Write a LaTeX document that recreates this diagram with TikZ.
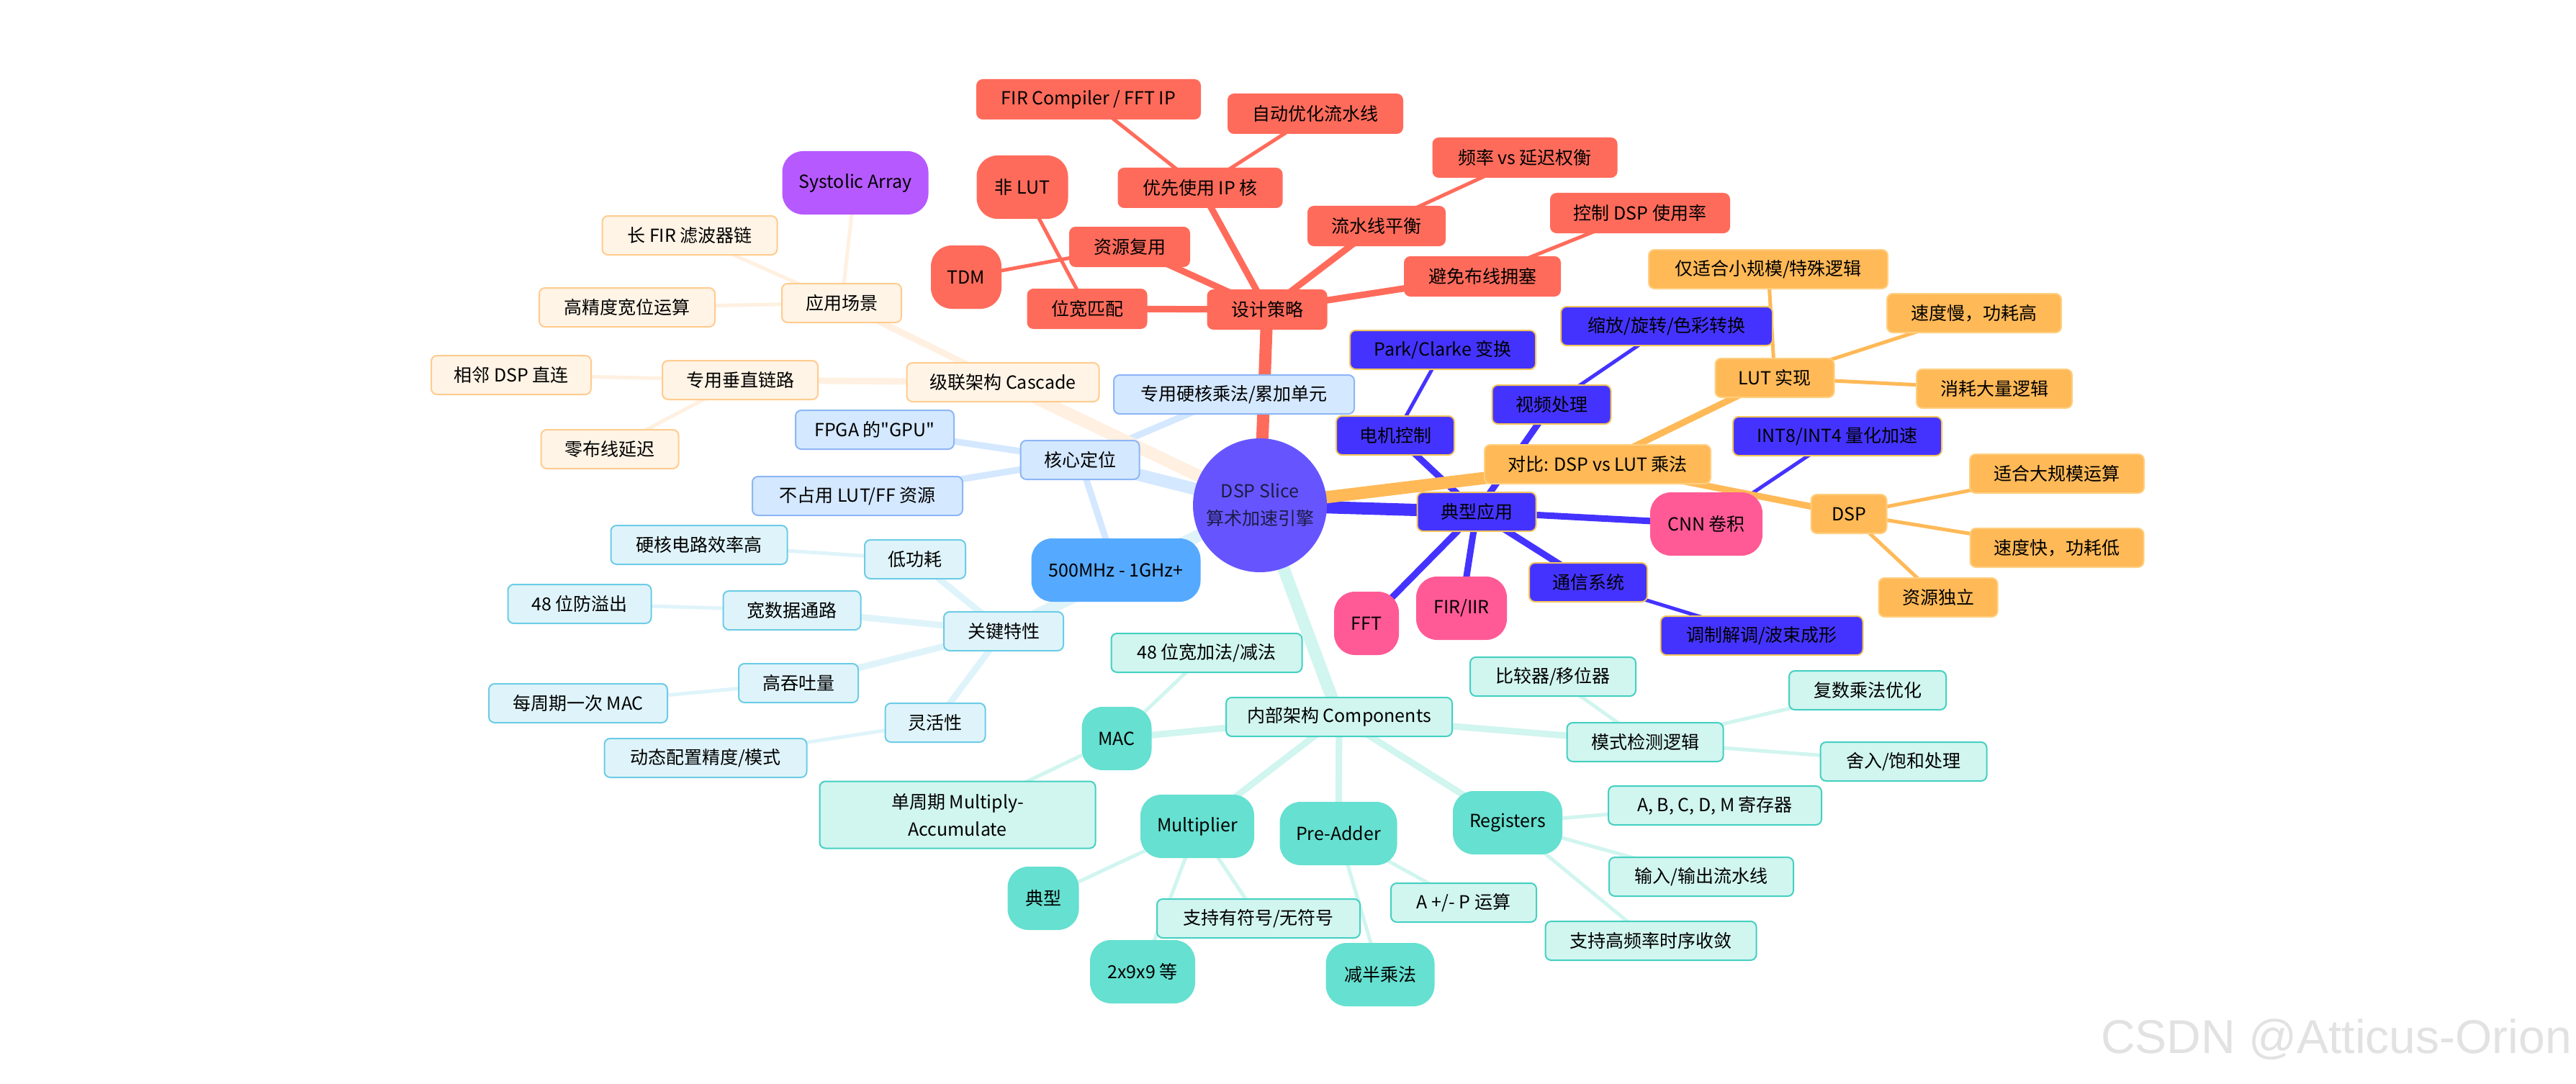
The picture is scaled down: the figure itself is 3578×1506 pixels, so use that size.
\documentclass[tikz,border=0pt]{standalone}
\usepackage{fontspec}
\newfontfamily\nfont{Noto Sans CJK SC}
\newfontfamily\wmfont{Liberation Sans}
\usetikzlibrary{backgrounds}
\definecolor{cRoot}{HTML}{6655FF}
\definecolor{cRootT}{HTML}{1C1C44}
\definecolor{cRed}{HTML}{FF6B5B}
\definecolor{cPeachF}{HTML}{FFF4E6}
\definecolor{cPeachD}{HTML}{FFCC8F}
\definecolor{cPeachE}{HTML}{FFF0E1}
\definecolor{cPurple}{HTML}{B65AFF}
\definecolor{cBlueF}{HTML}{D4E8FF}
\definecolor{cBlueD}{HTML}{8DB6F5}
\definecolor{cMHz}{HTML}{55AAFF}
\definecolor{cCyanF}{HTML}{DFF4FA}
\definecolor{cCyanD}{HTML}{6DCCE6}
\definecolor{cTealF}{HTML}{D1F5EF}
\definecolor{cTealD}{HTML}{45D0C2}
\definecolor{cTealR}{HTML}{66E0D0}
\definecolor{cInd}{HTML}{4433FF}
\definecolor{cIndD}{HTML}{F2C45C}
\definecolor{cPink}{HTML}{FF5A96}
\definecolor{cOra}{HTML}{FFB957}
\definecolor{cOraD}{HTML}{FFCF80}
\definecolor{cWm}{HTML}{E2E2E2}
\begin{document}
\begin{tikzpicture}[x=1pt,y=-1pt,
  base/.style={rectangle, rounded corners=8pt, line width=2pt, inner sep=0pt,
    minimum height=54pt, align=center, text=black,
    font=\nfont\fontsize{25}{38}\selectfont},
  big/.style={rounded corners=28pt, minimum height=86pt},
  redn/.style={base, fill=cRed, draw=cRed},
  redr/.style={redn, big},
  peach/.style={base, fill=cPeachF, draw=cPeachD},
  purp/.style={base, big, fill=cPurple, draw=cPurple},
  bluen/.style={base, fill=cBlueF, draw=cBlueD},
  mhz/.style={base, big, fill=cMHz, draw=cMHz},
  cyan/.style={base, fill=cCyanF, draw=cCyanD},
  teal/.style={base, fill=cTealF, draw=cTealD},
  tealr/.style={base, big, fill=cTealR, draw=cTealR},
  ind/.style={base, fill=cInd, draw=cIndD},
  pink/.style={base, big, fill=cPink, draw=cPink},
  ora/.style={base, fill=cOra, draw=cOraD},
  eA/.style={line width=17pt},
  eB/.style={line width=9pt},
  eC/.style={line width=5pt},
]
\useasboundingbox (0,0) rectangle (3578,1506);

% root
\node[circle, fill=cRoot, minimum size=186pt, inner sep=0pt, align=center,
  text=cRootT, font=\nfont\fontsize{25}{38}\selectfont] (root) at (1750,702) {DSP Slice\\算术加速引擎};

% design strategy (red)
\node[redn, minimum width=165pt] (sj) at (1760,430) {设计策略};
\node[redn, minimum width=227pt] (ipcore) at (1667,261) {优先使用 IP 核};
\node[redn, minimum width=310pt] (fir) at (1512,138) {FIR Compiler / FFT IP};
\node[redn, minimum width=242pt] (auto) at (1827,158) {自动优化流水线};
\node[redn, minimum width=190pt] (pipe) at (1912,314) {流水线平衡};
\node[redn, minimum width=255pt] (freq) at (2118,219) {频率 vs 延迟权衡};
\node[redn, minimum width=216pt] (avoid) at (2059,384) {避免布线拥塞};
\node[redn, minimum width=248pt] (ctrl) at (2278,296) {控制 DSP 使用率};
\node[redn, minimum width=166pt] (reuse) at (1569,343) {资源复用};
\node[redn, minimum width=165pt] (bw) at (1510,429) {位宽匹配};
\node[redr, minimum width=125pt] (nonlut) at (1420,260) {非 LUT};
\node[redr, minimum width=96pt] (tdm) at (1342,385) {TDM};

% cascade (peach)
\node[peach, minimum width=267pt] (cas) at (1393,531) {级联架构 Cascade};
\node[peach, minimum width=166pt] (scene) at (1169,421) {应用场景};
\node[peach, minimum width=243pt] (longfir) at (958,327) {长 FIR 滤波器链};
\node[peach, minimum width=244pt] (hiprec) at (871,427) {高精度宽位运算};
\node[peach, minimum width=216pt] (vert) at (1028,528) {专用垂直链路};
\node[peach, minimum width=222pt] (adj) at (710,521) {相邻 DSP 直连};
\node[peach, minimum width=191pt] (zero) at (847,624) {零布线延迟};
\node[purp, minimum width=201pt] (sys) at (1188,254) {Systolic Array};

% core position (light blue)
\node[bluen, minimum width=165pt] (core) at (1500,639) {核心定位};
\node[bluen, minimum width=334pt] (hard) at (1714,548) {专用硬核乘法/累加单元};
\node[bluen, minimum width=220pt] (gpu) at (1215,597) {FPGA 的"GPU"};
\node[bluen, minimum width=292pt] (nolut) at (1191,689) {不占用 LUT/FF 资源};
\node[mhz, minimum width=233pt] (mhzn) at (1550,792) {500MHz - 1GHz+};

% key features (cyan)
\node[cyan, minimum width=166pt] (key) at (1394,877) {关键特性};
\node[cyan, minimum width=140pt] (lowp) at (1271,777) {低功耗};
\node[cyan, minimum width=245pt] (eff) at (971,757) {硬核电路效率高};
\node[cyan, minimum width=191pt] (wide) at (1100,848) {宽数据通路};
\node[cyan, minimum width=199pt] (ovf) at (805,839) {48 位防溢出};
\node[cyan, minimum width=166pt] (thr) at (1109,949) {高吞吐量};
\node[cyan, minimum width=248pt] (permac) at (803,977) {每周期一次 MAC};
\node[cyan, minimum width=139pt] (flex) at (1299,1004) {灵活性};
\node[cyan, minimum width=281pt] (dyn) at (980,1053) {动态配置精度/模式};

% internal architecture (teal)
\node[teal, minimum width=314pt] (comp) at (1860,996) {内部架构 Components};
\node[tealr, minimum width=95pt] (mac) at (1551,1026) {MAC};
\node[teal, minimum width=265pt] (add48) at (1676,907) {48 位宽加法/减法};
\node[teal, minimum width=383pt, minimum height=93pt] (single) at (1330,1132) {单周期 Multiply-\\Accumulate};
\node[tealr, minimum width=156pt] (mult) at (1663,1148) {Multiplier};
\node[tealr, minimum width=97pt] (typ) at (1449,1248) {典型};
\node[teal, minimum width=282pt] (sign) at (1748,1276) {支持有符号/无符号};
\node[tealr, minimum width=144pt] (xnn) at (1587,1350) {2x9x9 等};
\node[tealr, minimum width=161pt] (pre) at (1859,1158) {Pre-Adder};
\node[teal, minimum width=202pt] (apm) at (2033,1254) {A +/- P 运算};
\node[tealr, minimum width=149pt] (half) at (1917,1354) {减半乘法};
\node[tealr, minimum width=150pt] (reg) at (2094,1143) {Registers};
\node[teal, minimum width=296pt] (abcd) at (2382,1119) {A, B, C, D, M 寄存器};
\node[teal, minimum width=256pt] (io) at (2363,1218) {输入/输出流水线};
\node[teal, minimum width=293pt] (hf) at (2293,1307) {支持高频率时序收敛};
\node[teal, minimum width=217pt] (pat) at (2285,1031) {模式检测逻辑};
\node[teal, minimum width=230pt] (cmpsh) at (2157,940) {比较器/移位器};
\node[teal, minimum width=218pt] (cplx) at (2594,959) {复数乘法优化};
\node[teal, minimum width=231pt] (rnd) at (2644,1058) {舍入/饱和处理};

% applications (indigo)
\node[ind, minimum width=165pt] (app) at (2051,711) {典型应用};
\node[ind, minimum width=164pt] (motor) at (1938,605) {电机控制};
\node[ind, minimum width=258pt] (park) at (2004,486) {Park/Clarke 变换};
\node[ind, minimum width=165pt] (video) at (2155,562) {视频处理};
\node[ind, minimum width=294pt] (scl) at (2315,453) {缩放/旋转/色彩转换};
\node[ind, minimum width=164pt] (comm) at (2206,809) {通信系统};
\node[ind, minimum width=281pt] (modem) at (2447,883) {调制解调/波束成形};
\node[ind, minimum width=290pt] (int8) at (2552,606) {INT8/INT4 量化加速};
\node[pink, minimum width=88pt] (fft) at (1898,866) {FFT};
\node[pink, minimum width=124pt] (firiir) at (2030,845) {FIR/IIR};
\node[pink, minimum width=154pt] (cnn) at (2370,728) {CNN 卷积};

% comparison (orange)
\node[ora, minimum width=314pt] (cmpr) at (2219,645) {对比: DSP vs LUT 乘法};
\node[ora, minimum width=165pt] (lut) at (2465,525) {LUT 实现};
\node[ora, minimum width=332pt] (small) at (2456,374) {仅适合小规模/特殊逻辑};
\node[ora, minimum width=242pt] (slow) at (2742,435) {速度慢，功耗高};
\node[ora, minimum width=216pt] (cons) at (2770,540) {消耗大量逻辑};
\node[ora, minimum width=105pt] (dsp) at (2568,714) {DSP};
\node[ora, minimum width=242pt] (large) at (2857,658) {适合大规模运算};
\node[ora, minimum width=241pt] (fast) at (2857,761) {速度快，功耗低};
\node[ora, minimum width=165pt] (indep) at (2692,830) {资源独立};

% watermark
\node[anchor=south east, inner sep=0pt, text=cWm, font=\wmfont\fontsize{66}{66}\selectfont] (wm) at (3572,1473) {CSDN @Atticus-Orion};

\begin{scope}[on background layer]
\fill[white] (0,0) rectangle (3578,1506);
% level 3
\draw[eC, cRed] (ipcore.center) -- (fir.center);
\draw[eC, cRed] (ipcore.center) -- (auto.center);
\draw[eC, cRed] (pipe.center) -- (freq.center);
\draw[eC, cRed] (avoid.center) -- (ctrl.center);
\draw[eC, cRed] (reuse.center) -- (tdm.center);
\draw[eC, cRed] (bw.center) -- (nonlut.center);
\draw[eC, cPeachE] (scene.center) -- (sys.center);
\draw[eC, cPeachE] (scene.center) -- (longfir.center);
\draw[eC, cPeachE] (scene.center) -- (hiprec.center);
\draw[eC, cPeachE] (vert.center) -- (adj.center);
\draw[eC, cPeachE] (vert.center) -- (zero.center);
\draw[eC, cCyanF] (lowp.center) -- (eff.center);
\draw[eC, cCyanF] (wide.center) -- (ovf.center);
\draw[eC, cCyanF] (thr.center) -- (permac.center);
\draw[eC, cCyanF] (flex.center) -- (dyn.center);
\draw[eC, cTealF] (mac.center) -- (add48.center);
\draw[eC, cTealF] (mac.center) -- (single.center);
\draw[eC, cTealF] (mult.center) -- (typ.center);
\draw[eC, cTealF] (mult.center) -- (sign.center);
\draw[eC, cTealF] (mult.center) -- (xnn.center);
\draw[eC, cTealF] (pre.center) -- (apm.center);
\draw[eC, cTealF] (pre.center) -- (half.center);
\draw[eC, cTealF] (reg.center) -- (abcd.center);
\draw[eC, cTealF] (reg.center) -- (io.center);
\draw[eC, cTealF] (reg.center) -- (hf.center);
\draw[eC, cTealF] (pat.center) -- (cmpsh.center);
\draw[eC, cTealF] (pat.center) -- (cplx.center);
\draw[eC, cTealF] (pat.center) -- (rnd.center);
\draw[eC, cInd] (motor.center) -- (park.center);
\draw[eC, cInd] (video.center) -- (scl.center);
\draw[eC, cInd] (cnn.center) -- (int8.center);
\draw[eC, cInd] (comm.center) -- (modem.center);
\draw[eC, cOra] (lut.center) -- (small.center);
\draw[eC, cOra] (lut.center) -- (slow.center);
\draw[eC, cOra] (lut.center) -- (cons.center);
\draw[eC, cOra] (dsp.center) -- (large.center);
\draw[eC, cOra] (dsp.center) -- (fast.center);
\draw[eC, cOra] (dsp.center) -- (indep.center);
% level 2
\draw[eB, cRed] (sj.center) -- (ipcore.center);
\draw[eB, cRed] (sj.center) -- (pipe.center);
\draw[eB, cRed] (sj.center) -- (avoid.center);
\draw[eB, cRed] (sj.center) -- (reuse.center);
\draw[eB, cRed] (sj.center) -- (bw.center);
\draw[eB, cPeachE] (cas.center) -- (scene.center);
\draw[eB, cPeachE] (cas.center) -- (vert.center);
\draw[eB, cBlueF] (core.center) -- (hard.center);
\draw[eB, cBlueF] (core.center) -- (gpu.center);
\draw[eB, cBlueF] (core.center) -- (nolut.center);
\draw[eB, cBlueF] (core.center) -- (mhzn.center);
\draw[eB, cCyanF] (key.center) -- (lowp.center);
\draw[eB, cCyanF] (key.center) -- (wide.center);
\draw[eB, cCyanF] (key.center) -- (thr.center);
\draw[eB, cCyanF] (key.center) -- (flex.center);
\draw[eB, cTealF] (comp.center) -- (mac.center);
\draw[eB, cTealF] (comp.center) -- (mult.center);
\draw[eB, cTealF] (comp.center) -- (pre.center);
\draw[eB, cTealF] (comp.center) -- (reg.center);
\draw[eB, cTealF] (comp.center) -- (pat.center);
\draw[eB, cInd] (app.center) -- (motor.center);
\draw[eB, cInd] (app.center) -- (video.center);
\draw[eB, cInd] (app.center) -- (cnn.center);
\draw[eB, cInd] (app.center) -- (comm.center);
\draw[eB, cInd] (app.center) -- (fft.center);
\draw[eB, cInd] (app.center) -- (firiir.center);
\draw[eB, cOra] (cmpr.center) -- (lut.center);
\draw[eB, cOra] (cmpr.center) -- (dsp.center);
% level 1
\draw[eA, cRed] (root.center) -- (sj.center);
\draw[eA, cPeachE] (root.center) -- (cas.center);
\draw[eA, cBlueF] (root.center) -- (core.center);
\draw[eA, cCyanF] (root.center) -- (key.center);
\draw[eA, cTealF] (root.center) -- (comp.center);
\draw[eA, cInd] (root.center) -- (app.center);
\draw[eA, cOra] (root.center) -- (cmpr.center);
\end{scope}
\end{tikzpicture}
\end{document}
